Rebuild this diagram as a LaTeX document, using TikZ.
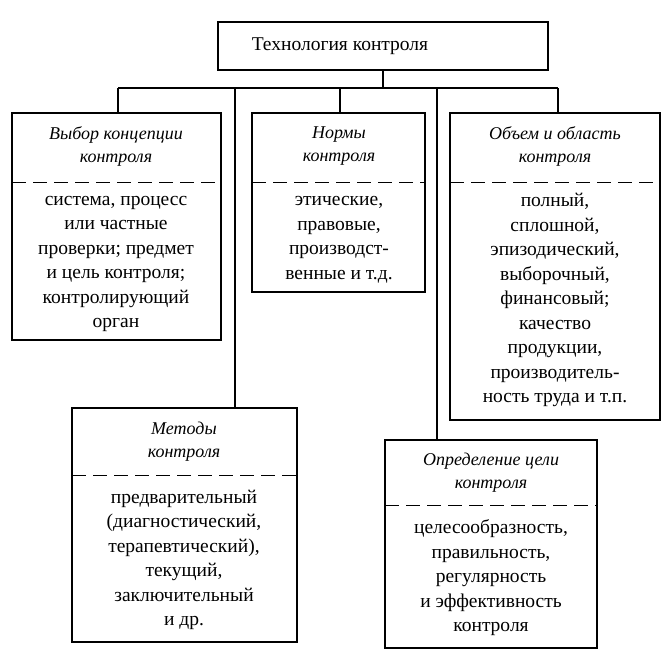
\documentclass[tikz,border=0pt]{standalone}
\usepackage{fontspec}
\setmainfont{Liberation Serif}
\begin{document}
\begin{tikzpicture}[x=1pt,y=-1pt,
  box/.style={draw,line width=1.2pt},
  ttl/.style={font=\fontsize{18}{23}\selectfont\itshape,align=center,inner sep=0pt},
  body/.style={font=\fontsize{19.5}{24.5}\selectfont,align=center,inner sep=0pt},
  dsh/.style={dash pattern=on 14pt off 7pt,line width=0.9pt},
  ln/.style={line width=1.2pt}]
\useasboundingbox (0,0) rectangle (670,670);
\draw[box] (218,22) rectangle (548,70); \coordinate (topc) at (383,70);
\node[font=\fontsize{19.5}{22}\selectfont] (top) at (340,46) {Технология контроля};
% boxes
\draw[box] (12,113) rectangle (221,340); \coordinate (b1) at (118,113);
\draw[dsh] (12,182) -- (221,182);
\node[ttl] (t1) at (116,146) {Выбор концепции\\контроля};
\node[body] (d1) at (116,264) {система, процесс\\или частные\\проверки; предмет\\и цель контроля;\\контролирующий\\орган};
\draw[box] (252,113) rectangle (425,292); \coordinate (b2) at (340,113);
\draw[dsh] (252,182) -- (425,182);
\node[ttl] (t2) at (339,146) {Нормы\\контроля};
\node[body] (d2) at (339,240) {этические,\\правовые,\\производст-\\венные и т.д.};
\draw[box] (450,113) rectangle (660,420); \coordinate (b3) at (558,113);
\draw[dsh] (450,182) -- (660,182);
\node[ttl] (t3) at (555,146) {Объем и область\\контроля};
\node[body] (d3) at (555,300) {полный,\\сплошной,\\эпизодический,\\выборочный,\\финансовый;\\качество\\продукции,\\производитель-\\ность труда и т.п.};
\draw[box] (72,408) rectangle (297,642); \coordinate (b4) at (235,408);
\draw[dsh] (72,475) -- (297,475);
\node[ttl] (t4) at (184,442) {Методы\\контроля};
\node[body] (d4) at (184,560) {предварительный\\(диагностический,\\терапевтический),\\текущий,\\заключительный\\и др.};
\draw[box] (385,440) rectangle (597,648); \coordinate (b5) at (437,440);
\draw[dsh] (385,505) -- (597,505);
\node[ttl] (t5) at (491,473) {Определение цели\\контроля};
\node[body] (d5) at (491,578) {целесообразность,\\правильность,\\регулярность\\и эффективность\\контроля};
% connectors
\coordinate (hl) at (118,88); \coordinate (hr) at (558,88);
\draw[ln] (hl) -- (hr);
\draw[ln] (hl) -- (b1); \draw[ln] (hr) -- (b3);
\draw[ln] (340,88) -- (b2);
\draw[ln] (235,88) -- (b4);
\draw[ln] (437,88) -- (b5);
\draw[ln] (topc) -- (383,88);
\end{tikzpicture}
\end{document}
